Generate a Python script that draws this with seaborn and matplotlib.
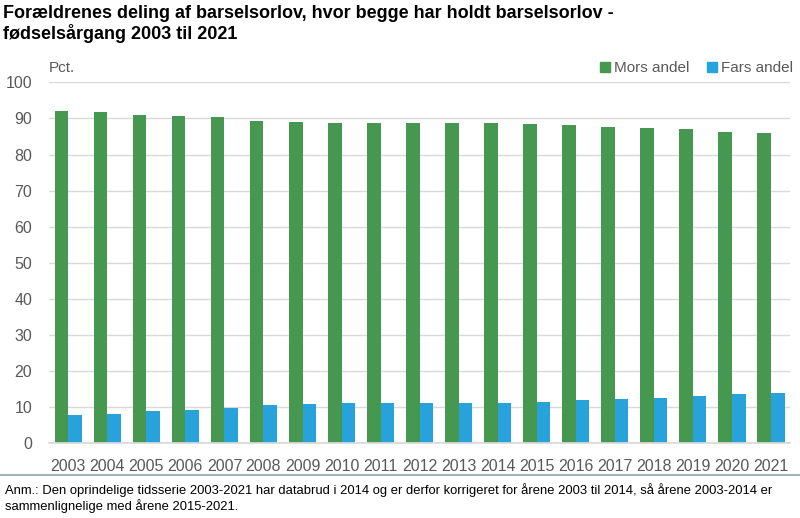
import pandas as pd
import seaborn as sns
import matplotlib.pyplot as plt
from matplotlib.lines import Line2D

# Data
years = [str(y) for y in range(2003, 2022)]
mors_andel = [92.0, 91.8, 91.0, 90.6, 90.3, 89.4, 89.1, 88.8, 88.8, 88.7,
              88.7, 88.8, 88.5, 88.2, 87.7, 87.3, 87.0, 86.3, 86.0]
fars_andel = [7.9, 8.1, 8.9, 9.3, 9.8, 10.7, 10.8, 11.2, 11.2, 11.2,
              11.3, 11.2, 11.5, 11.9, 12.3, 12.6, 13.1, 13.7, 13.9]
series_names = ['Mors andel', 'Fars andel']
colors = ['#46974F', '#27A2DB']

df = pd.DataFrame({'År': years * 2,
                   'Andel': mors_andel + fars_andel,
                   'Serie': [series_names[0]] * len(years) + [series_names[1]] * len(years)})

sns.set_theme(style='white')
plt.rcParams['font.family'] = ['Liberation Sans', 'DejaVu Sans']

fig = plt.figure(figsize=(8, 5.18), dpi=100)
ax = fig.add_axes([0.061, 0.144, 0.927, 0.697])

sns.barplot(data=df, x='År', y='Andel', hue='Serie', palette=colors,
            width=0.7, saturation=1, edgecolor='none', ax=ax, legend=False)

ax.set_ylim(0, 100)
ax.set_yticks(range(0, 101, 10))
ax.set_xlim(-0.5, len(years) - 0.5)
ax.yaxis.grid(True, color='#D9D9D9', linewidth=1)
ax.set_axisbelow(True)
for s in ['top', 'right', 'left']:
    ax.spines[s].set_visible(False)
ax.spines['bottom'].set_color('#D9D9D9')
ax.set_xlabel('')
ax.set_ylabel('')
ax.tick_params(axis='both', length=0, labelsize=11.5, colors='#595959')
ax.tick_params(axis='x', pad=11)
ax.tick_params(axis='y', pad=12)

ax.text(0.0, 1.04, 'Pct.', transform=ax.transAxes, fontsize=11, color='#595959', va='center')

handles = [Line2D([], [], marker='s', linestyle='', markersize=7, color=c) for c in colors]
ax.legend(handles, series_names, loc='center right', bbox_to_anchor=(1.012, 1.04), ncol=2,
          frameon=False, fontsize=11, labelcolor='#595959', handletextpad=0.1,
          columnspacing=1.0, borderaxespad=0.0, handlelength=1.0)

fig.text(0.004, 0.99, 'Forældrenes deling af barselsorlov, hvor begge har holdt barselsorlov -\n'
         'fødselsårgang 2003 til 2021', fontsize=13, fontweight='bold', va='top',
         linespacing=1.15, color='black')

fig.add_artist(Line2D([0, 1], [0.083, 0.083], color='#8FA3B0', linewidth=1.2))
fig.text(0.006, 0.068, 'Anm.: Den oprindelige tidsserie 2003-2021 har databrud i 2014 og er derfor '
         'korrigeret for årene 2003 til 2014, så årene 2003-2014 er\nsammenlignelige med årene 2015-2021.',
         fontsize=9.4, va='top', linespacing=1.2, color='black')

fig.savefig('out.png', dpi=100)
